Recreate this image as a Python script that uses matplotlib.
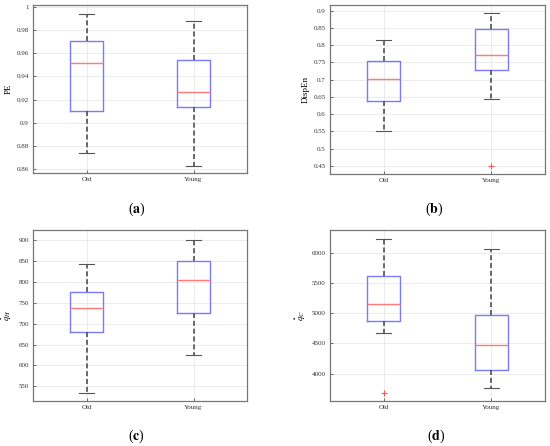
import matplotlib
matplotlib.use("Agg")
import matplotlib.pyplot as plt
import numpy as np
from matplotlib.ticker import FuncFormatter

plt.rcParams['font.family'] = ['Liberation Serif', 'DejaVu Serif']
plt.rcParams['mathtext.fontset'] = 'stix'

groups = ["Old", "Young"]

# PE
pe_whislo = [0.8743, 0.8631]
pe_q1 = [0.9105, 0.9133]
pe_med = [0.9512, 0.9268]
pe_q3 = [0.9707, 0.9544]
pe_whishi = [0.9937, 0.9874]
pe_fliers = [[], []]

# DispEn
de_whislo = [0.5506, 0.6433]
de_q1 = [0.6375, 0.7272]
de_med = [0.7012, 0.7726]
de_q3 = [0.7552, 0.8460]
de_whishi = [0.8160, 0.8942]
de_fliers = [[], [0.449]]

# q_H
qh_whislo = [534, 625]
qh_q1 = [679.5, 725]
qh_med = [738.6, 805.8]
qh_q3 = [776.2, 850.5]
qh_whishi = [843.3, 901.6]
qh_fliers = [[], []]

# q_C
qc_whislo = [4670, 3758]
qc_q1 = [4868, 4066]
qc_med = [5148, 4473]
qc_q3 = [5621, 4962]
qc_whishi = [6220, 6066]
qc_fliers = [[3676], []]

panels = [
    dict(pos=[33, 5, 247, 173], lo=pe_whislo, q1=pe_q1, med=pe_med, q3=pe_q3, hi=pe_whishi,
         fl=pe_fliers, ylim=(0.8568, 1.0014), ticks=np.arange(0.86, 1.0001, 0.02),
         ylabel="PE", cap="a", cappos=(137, 209)),
    dict(pos=[330, 5, 545, 174], lo=de_whislo, q1=de_q1, med=de_med, q3=de_q3, hi=de_whishi,
         fl=de_fliers, ylim=(0.4268, 0.9164), ticks=np.arange(0.45, 0.9001, 0.05),
         ylabel="DispEn", cap="b", cappos=(434, 209)),
    dict(pos=[33, 230.3, 247, 400.7], lo=qh_whislo, q1=qh_q1, med=qh_med, q3=qh_q3, hi=qh_whishi,
         fl=qh_fliers, ylim=(515.6, 924), ticks=np.arange(550, 901, 50),
         ylabel=r"$\overset{\bullet}{q}_{H}$", cap="c", cappos=(136, 436)),
    dict(pos=[330, 230.3, 545, 401], lo=qc_whislo, q1=qc_q1, med=qc_med, q3=qc_q3, hi=qc_whishi,
         fl=qc_fliers, ylim=(3549, 6368), ticks=np.arange(4000, 6001, 500),
         ylabel=r"$\overset{\bullet}{q}_{C}$", cap="d", cappos=(436, 436)),
]

W, H = 550, 446
fig = plt.figure(figsize=(5.5, 4.46), dpi=100)

for p in panels:
    x0, y0, x1, y1 = p['pos']
    ax = fig.add_axes([x0 / W, 1 - y1 / H, (x1 - x0) / W, (y1 - y0) / H])
    stats = []
    for i, g in enumerate(groups):
        stats.append(dict(label=g, whislo=p['lo'][i], q1=p['q1'][i], med=p['med'][i],
                          q3=p['q3'][i], whishi=p['hi'][i], fliers=p['fl'][i]))
    ax.bxp(stats, positions=[1, 2], widths=0.31, capwidths=0.14, showfliers=True,
           boxprops=dict(color='#7a7aff', linewidth=1.0),
           medianprops=dict(color='#ff7a7a', linewidth=1.0),
           whiskerprops=dict(color='#505050', linewidth=1.2, linestyle=(0, (3, 1.7))),
           capprops=dict(color='#555555', linewidth=0.8),
           flierprops=dict(marker='+', markeredgecolor='#ff5555', markersize=4, markeredgewidth=0.8))
    ax.set_xlim(0.5, 2.5)
    ax.set_ylim(*p['ylim'])
    ax.set_yticks(p['ticks'])
    ax.yaxis.set_major_formatter(FuncFormatter(lambda v, _: ('%.4f' % v).rstrip('0').rstrip('.')))
    ax.grid(True, color='#e8e8e8', linewidth=0.6, linestyle='-')
    ax.set_axisbelow(True)
    ax.tick_params(axis='both', direction='in', length=2, width=0.5, labelsize=5, pad=3,
                   colors='#333333', top=False, right=False)
    for s in ax.spines.values():
        s.set_color('#777777')
        s.set_linewidth(0.9)
    ax.set_ylabel(p['ylabel'], fontsize=6.5, labelpad=3)
    cx, cy = p['cappos']
    fig.text(cx / W, 1 - cy / H, "(" + r"$\mathbf{" + p['cap'] + "}$" + ")", fontsize=10,
             ha='center', va='center')

fig.savefig("out.png", dpi=100)
